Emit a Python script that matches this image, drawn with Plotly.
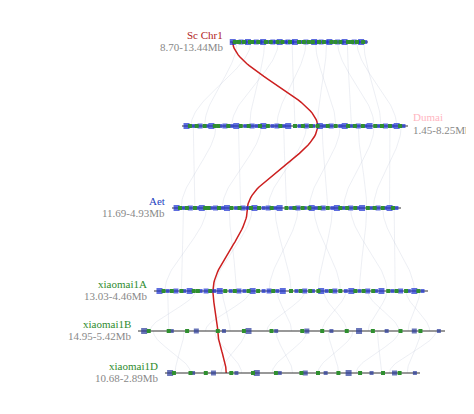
import plotly.graph_objects as go
import numpy as np

track_names = ["Sc Chr1", "Dumai", "Aet", "xiaomai1A", "xiaomai1B", "xiaomai1D"]
track_ranges = ["8.70-13.44Mb", "1.45-8.25Mb", "11.69-4.93Mb", "13.03-4.46Mb", "14.95-5.42Mb", "10.68-2.89Mb"]
track_y = [34, 118, 200, 283, 323, 365]
track_x0 = [222, 174, 164, 146, 130, 157]
track_x1 = [360, 400, 393, 420, 437, 412]
name_colors = ["#b22222", "#ffb6c1", "#1f3fbf", "#2e8b2e", "#2e8b2e", "#2e8b2e"]

blue_blocks = [0.02, 0.05, 0.08, 0.11, 0.13, 0.17, 0.19, 0.22, 0.24, 0.28, 0.31, 0.33, 0.36, 0.4, 0.42, 0.45, 0.47,
               0.52, 0.55, 0.58, 0.61, 0.63, 0.66, 0.7, 0.72, 0.75, 0.78, 0.81, 0.83, 0.87, 0.9, 0.93, 0.95, 0.98]
green_blocks = [0.035, 0.065, 0.1, 0.145, 0.16, 0.205, 0.26, 0.295, 0.345, 0.38, 0.435, 0.5, 0.535, 0.57, 0.6,
                0.645, 0.68, 0.735, 0.765, 0.8, 0.855, 0.885, 0.92, 0.965]
sparse = [False, False, False, False, True, True]

links_up = [0.05, 0.15, 0.25, 0.35, 0.45, 0.55, 0.62, 0.7, 0.78, 0.85, 0.92, 0.97]
links_dn = [0.1, 0.04, 0.3, 0.22, 0.5, 0.42, 0.68, 0.6, 0.85, 0.75, 0.95, 0.88]
red_frac = [0.02, 0.60, 0.33, 0.215, 0.26, 0.24]

fig = go.Figure()

def pos(i, f):
    return track_x0[i] + f * (track_x1[i] - track_x0[i])

t = np.linspace(0, 1, 40)
s = 3 * t**2 - 2 * t**3
for i in range(len(track_y) - 1):
    for a, b in zip(links_up, links_dn):
        xa, xb = pos(i, a), pos(i + 1, b)
        fig.add_trace(go.Scatter(x=xa + (xb - xa) * s, y=track_y[i] + (track_y[i + 1] - track_y[i]) * t,
                                 mode="lines", line=dict(color="rgba(150,160,190,0.22)", width=0.8),
                                 hoverinfo="skip", showlegend=False))
rx, ry = [], []
for i in range(len(track_y) - 1):
    xa, xb = pos(i, red_frac[i]), pos(i + 1, red_frac[i + 1])
    rx += list(xa + (xb - xa) * s)
    ry += list(track_y[i] + (track_y[i + 1] - track_y[i]) * t)
fig.add_trace(go.Scatter(x=rx, y=ry, mode="lines", line=dict(color="#cc1f1f", width=1.5),
                         hoverinfo="skip", showlegend=False))

font = "Liberation Serif"
for i, (n, r, y) in enumerate(zip(track_names, track_ranges, track_y)):
    fig.add_trace(go.Scatter(x=[track_x0[i], track_x1[i]], y=[y, y], mode="lines",
                             line=dict(color="#333", width=1.2), showlegend=False, hoverinfo="skip"))
    bb = blue_blocks[::3] if sparse[i] else blue_blocks
    gg = green_blocks[::2] if sparse[i] else green_blocks
    bx = [pos(i, f) for f in bb]
    gx = [pos(i, f) for f in gg]
    bcol = "#2a3a9a" if sparse[i] else "#1a2fd0"
    fig.add_trace(go.Scatter(x=bx, y=[y] * len(bx), mode="markers",
                             marker=dict(symbol="square", color=bcol, size=[6, 4, 5, 4] * 10, line=dict(width=0)),
                             showlegend=False, hoverinfo="skip"))
    fig.add_trace(go.Scatter(x=gx, y=[y] * len(gx), mode="markers",
                             marker=dict(symbol="square", color="#2f8f2f", size=4, line=dict(width=0)),
                             showlegend=False, hoverinfo="skip"))
    if i != 1:
        fig.add_annotation(x=track_x0[i] - 5, y=y - 7, text=n, showarrow=False, xanchor="right",
                           font=dict(family=font, size=11, color=name_colors[i]))
        fig.add_annotation(x=track_x0[i] - 5, y=y + 5, text=r, showarrow=False, xanchor="right",
                           font=dict(family=font, size=11, color="#888"))
    else:
        fig.add_annotation(x=track_x1[i] + 3, y=y - 9, text=n, showarrow=False, xanchor="left",
                           font=dict(family=font, size=11, color=name_colors[i]))
        fig.add_annotation(x=track_x1[i] + 3, y=y + 4, text=r, showarrow=False, xanchor="left",
                           font=dict(family=font, size=11, color="#888"))

fig.update_layout(width=474, height=414, margin=dict(l=0, r=0, t=0, b=0),
                  plot_bgcolor="white", paper_bgcolor="white",
                  xaxis=dict(range=[0, 474], visible=False),
                  yaxis=dict(range=[414, 0], visible=False))
fig.write_html("out.html")
